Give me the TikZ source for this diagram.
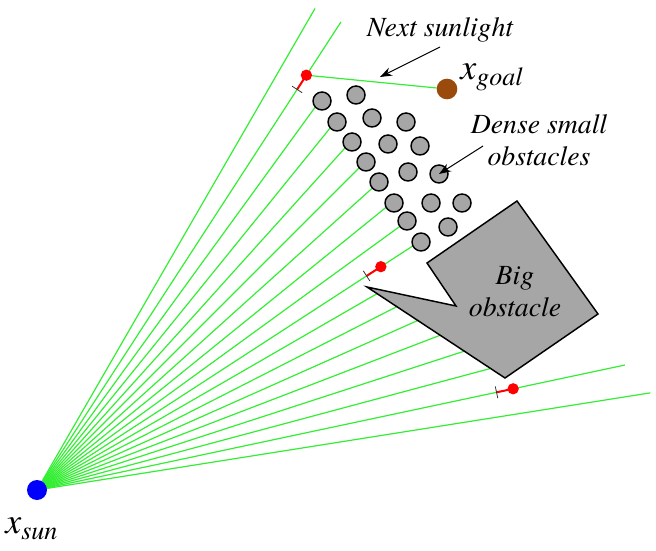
\documentclass[tikz,border=0pt]{standalone}
\usepackage{fontspec}
\setmainfont{texgyretermes}[Extension=.otf, UprightFont=*-regular, ItalicFont=*-italic, BoldFont=*-bold, BoldItalicFont=*-bolditalic]
\usepackage{tikz}
\usetikzlibrary{arrows.meta,calc}
\definecolor{raygreen}{HTML}{33EE33}
\definecolor{obsgray}{HTML}{A6A6A6}
\definecolor{goalbrown}{HTML}{9A4A0A}
\newcommand{\xsub}[1]{{\fontsize{27}{27}\selectfont\itshape x}\raisebox{-4.5pt}{\fontsize{19.5}{20}\selectfont\itshape #1}}

\begin{document}
\begin{tikzpicture}[x=0.75pt, y=0.75pt,
        raybeam/.style={draw=raygreen, line width=0.9pt},
        obst/.style={circle, draw=black, fill=obsgray, line width=1.1pt, minimum size=13.5pt, inner sep=0pt},
        bigobst/.style={draw=black, fill=obsgray, line width=1.1pt, line join=miter},
        reddot/.style={circle, fill=red, minimum size=8.5pt, inner sep=0pt, outer sep=0pt},
        sundot/.style={circle, fill=blue, minimum size=15pt, inner sep=0pt, outer sep=0pt},
        goaldot/.style={circle, fill=goalbrown, minimum size=15.5pt, inner sep=0pt, outer sep=0pt},
        stub/.style={draw=red, line width=1.5pt},
        tick/.style={draw=black!80, line width=0.6pt},
        pointer/.style={-{Stealth[length=9pt,width=6.5pt]}, line width=0.75pt},
        lbl/.style={font=\fontsize{20.8}{24}\selectfont\itshape, inner sep=3pt}]

        \useasboundingbox (0,0) rectangle (656,550);
        \coordinate (src) at (37,60);

        \foreach \a/\l in {60/556, 57/558, 54/478, 51/471, 48/465, 45/461, 42/456, 39/454, 36/453,
                           33/453, 30/395, 27/406, 24/419, 21/434, 18/451, 15/472, 12/601, 9/621}
          \draw[raybeam] (src) -- ++(\a:\l);

        \foreach \a/\l [count=\i] in {57/494.6, 33/410, 12/486.8} {
          \node[reddot] (r\i) at ($(src)+(\a:\l)$) {};
          \coordinate (t\i) at ($(src)+(\a:{\l-17})$);
          \draw[stub] (r\i.center) -- (t\i);
          \draw[tick] ($(t\i)+(\a+90:6)$) -- ($(t\i)+(\a-90:6)$);
        }

        \foreach \x/\y [count=\i] in {322/449, 356/455, 337/428, 372/432, 406/428, 352/408,
                                      388/406, 420/404, 366/388, 408/378, 439/376, 379/368,
                                      394/347, 431/347, 462/347, 407/329, 448/323, 421/308}
          \node[obst] (o\i) at (\x,\y) {};

        \draw[bigobst] (367,263) -- (456,244) -- (427,287) -- (517,349) -- (598,236) -- (505,172) -- cycle;
        \node[lbl, align=center] (bigtxt) at (515,258) {Big\\obstacle};

        \node[goaldot] (goal) at (447,461) {};
        \draw[raybeam] (r1) -- (goal);
        \node[sundot] (sun) at (src) {};

        \node[anchor=base west, inner sep=0pt] (goallbl) at (460,470) {\xsub{goal}};
        \node[anchor=base west, inner sep=0pt] (sunlbl) at (5,17) {\xsub{sun}};

        \node[lbl, anchor=base] (next) at (440,513) {Next sunlight};
        \coordinate (nexttip) at (380,473);
        \draw[pointer] (next.south) -- (nexttip);

        \node[lbl, align=center] (dense) at (539,410) {Dense small\\obstacles};
        \coordinate (densetail) at (483,404);
        \draw[pointer] (densetail) -- (o11.center);
      \end{tikzpicture}
\end{document}
